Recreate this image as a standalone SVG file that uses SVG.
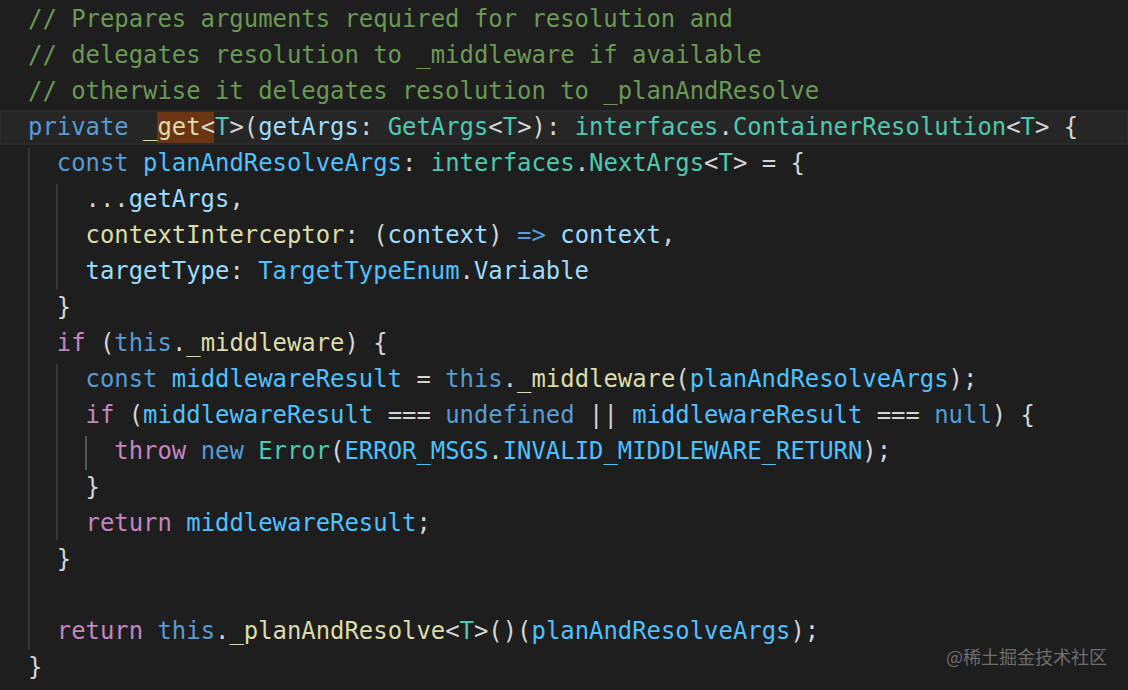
<svg xmlns="http://www.w3.org/2000/svg" width="1128" height="690" viewBox="0 0 1128 690">
<style>
text.c{font-family:"DejaVu Sans Mono","Liberation Mono",monospace;font-size:23.9px;fill:#d4d4d4;white-space:pre}
.cm{fill:#6a9955}.kw{fill:#569cd6}.ct{fill:#c586c0}.fn{fill:#dcdcaa}.ty{fill:#4ec9b0}.vr{fill:#9cdcfe}.cn{fill:#4fc1ff}
.g{stroke:#404040;stroke-width:1.5}
</style>
<rect width="1128" height="690" fill="#1e1e1e"/>
<rect x="0" y="111" width="1128" height="33" fill="#262626" stroke="#2e2e2e" stroke-width="1.5"/>
<rect x="157" y="112" width="57" height="31" fill="#6b3513"/>
<g id="guides">
<line class="g" x1="29" y1="148" x2="29" y2="650"/>
<line class="g" x1="57" y1="184" x2="57" y2="290"/>
<line class="g" x1="57" y1="364" x2="57" y2="540"/>
<line x1="86" y1="436" x2="86" y2="470" stroke="#6a6a6a" stroke-width="1.5"/>
</g>
<g id="code" xml:space="preserve">
<text class="c" x="28" y="27"><tspan class="cm">// Prepares arguments required for resolution and</tspan></text>
<text class="c" x="28" y="63"><tspan class="cm">// delegates resolution to _middleware if available</tspan></text>
<text class="c" x="28" y="99"><tspan class="cm">// otherwise it delegates resolution to _planAndResolve</tspan></text>
<text class="c" x="28" y="135"><tspan class="kw">private</tspan> <tspan class="fn">_get</tspan>&lt;<tspan class="ty">T</tspan>&gt;(<tspan class="vr">getArgs</tspan>: <tspan class="ty">GetArgs</tspan>&lt;<tspan class="ty">T</tspan>&gt;): <tspan class="ty">interfaces</tspan>.<tspan class="ty">ContainerResolution</tspan>&lt;<tspan class="ty">T</tspan>&gt; {</text>
<text class="c" x="28" y="171">  <tspan class="kw">const</tspan> <tspan class="cn">planAndResolveArgs</tspan>: <tspan class="ty">interfaces</tspan>.<tspan class="ty">NextArgs</tspan>&lt;<tspan class="ty">T</tspan>&gt; = {</text>
<text class="c" x="28" y="207">    ...<tspan class="vr">getArgs</tspan>,</text>
<text class="c" x="28" y="243">    <tspan class="fn">contextInterceptor</tspan>: (<tspan class="vr">context</tspan>) <tspan class="kw">=&gt;</tspan> <tspan class="vr">context</tspan>,</text>
<text class="c" x="28" y="279">    <tspan class="vr">targetType</tspan>: <tspan class="cn">TargetTypeEnum</tspan>.<tspan class="vr">Variable</tspan></text>
<text class="c" x="28" y="315">  }</text>
<text class="c" x="28" y="351">  <tspan class="ct">if</tspan> (<tspan class="kw">this</tspan>.<tspan class="fn">_middleware</tspan>) {</text>
<text class="c" x="28" y="387">    <tspan class="kw">const</tspan> <tspan class="cn">middlewareResult</tspan> = <tspan class="kw">this</tspan>.<tspan class="fn">_middleware</tspan>(<tspan class="cn">planAndResolveArgs</tspan>);</text>
<text class="c" x="28" y="423">    <tspan class="ct">if</tspan> (<tspan class="cn">middlewareResult</tspan> === <tspan class="kw">undefined</tspan> || <tspan class="cn">middlewareResult</tspan> === <tspan class="kw">null</tspan>) {</text>
<text class="c" x="28" y="459">      <tspan class="ct">throw</tspan> <tspan class="kw">new</tspan> <tspan class="ty">Error</tspan>(<tspan class="cn">ERROR_MSGS</tspan>.<tspan class="cn">INVALID_MIDDLEWARE_RETURN</tspan>);</text>
<text class="c" x="28" y="495">    }</text>
<text class="c" x="28" y="531">    <tspan class="ct">return</tspan> <tspan class="cn">middlewareResult</tspan>;</text>
<text class="c" x="28" y="567">  }</text>
<text class="c" x="28" y="639">  <tspan class="ct">return</tspan> <tspan class="kw">this</tspan>.<tspan class="fn">_planAndResolve</tspan>&lt;<tspan class="ty">T</tspan>&gt;()(<tspan class="cn">planAndResolveArgs</tspan>);</text>
<text class="c" x="28" y="675">}</text>
</g>
<text x="946" y="664" font-family="'Noto Sans CJK SC',sans-serif" font-size="18" fill="#6e6e6e">@稀土掘金技术社区</text>
</svg>
